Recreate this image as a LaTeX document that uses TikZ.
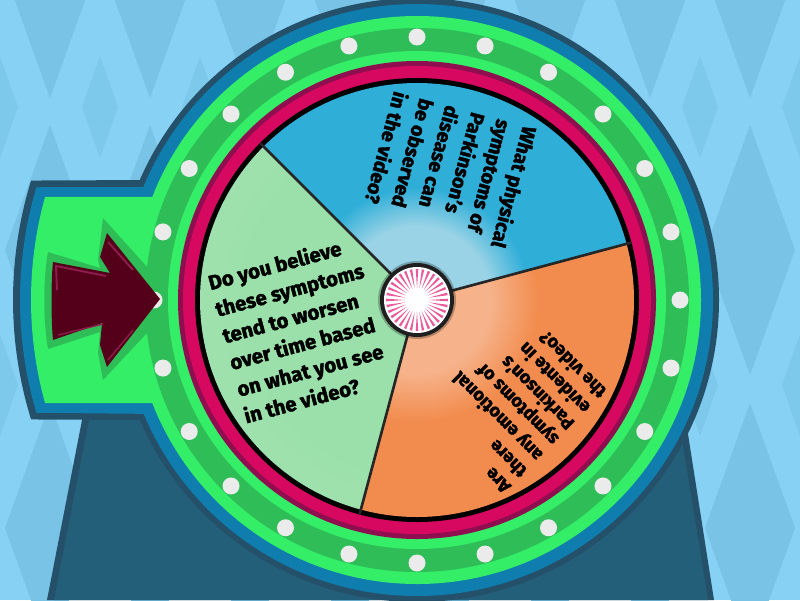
\documentclass[tikz,border=0pt]{standalone}
\usepackage{fontspec}
\usepackage{tikz}
\usetikzlibrary{calc}
\newfontfamily\wheelfont{Fira Sans}[BoldFeatures={FakeBold=2}]

\definecolor{skybg}{HTML}{87D1F5}
\definecolor{skybig}{HTML}{79C3E6}
\definecolor{skysmall}{HTML}{7DC9EB}
\definecolor{standdark}{HTML}{24506A}
\definecolor{standfill}{HTML}{245F7A}
\definecolor{rimblue}{HTML}{0F7DAE}
\definecolor{rimlight}{HTML}{33EE66}
\definecolor{rimdark}{HTML}{2FBD58}
\definecolor{pinkdark}{HTML}{8F0E50}
\definecolor{pinkmain}{HTML}{D6085F}
\definecolor{wedgeblue}{HTML}{2FAED8}
\definecolor{wedgeblueglow}{HTML}{9AD3E6}
\definecolor{wedgeorange}{HTML}{F28C4E}
\definecolor{wedgeorangeglow}{HTML}{F6B28A}
\definecolor{wedgegreen}{HTML}{B4E6C0}
\definecolor{wedgegreenin}{HTML}{9BE0AA}
\definecolor{arrowdark}{HTML}{54001A}
\definecolor{arrowshine}{HTML}{8E1C4C}
\definecolor{raypink}{HTML}{E85A9A}

\pgfdeclareradialshading{blueglow}{\pgfpoint{0bp}{0bp}}{color(0bp)=(wedgeblueglow);color(8.5bp)=(wedgeblueglow);color(13bp)=(wedgeblue);color(50bp)=(wedgeblue)}
\pgfdeclareradialshading{orangeglow}{\pgfpoint{0bp}{0bp}}{color(0bp)=(wedgeorangeglow);color(8.5bp)=(wedgeorangeglow);color(14bp)=(wedgeorange);color(50bp)=(wedgeorange)}
\pgfdeclareradialshading{greenglow}{\pgfpoint{0bp}{0bp}}{color(0bp)=(wedgegreenin);color(20bp)=(wedgegreenin);color(50bp)=(wedgegreen)}

\begin{document}
\begin{tikzpicture}[x=0.02cm, y=0.02cm,
		spokeline/.style={draw=black!85, line width=1.5pt},
		question/.style={align=left, anchor=north west, inner sep=0pt, text=black},
		bulb/.style={fill=black!8}]
	\useasboundingbox (0,0) rectangle (800,600);
	\clip (0,0) rectangle (800,600);

	% Background
	\fill[skybg] (0,0) rectangle (800,600);
	\foreach \c in {50,150,...,750} {
		\foreach \r in {72,350,627} {
			\fill[skybig] (\c-45,\r) -- (\c,\r+125) -- (\c+45,\r) -- (\c,\r-125) -- cycle;
		}
	}
	\foreach \c in {0,100,...,800} {
		\foreach \r in {215,493} {
			\fill[skysmall] (\c-18,\r) -- (\c,\r+51) -- (\c+18,\r) -- (\c,\r-51) -- cycle;
		}
	}

	% Stand
	\fill[standdark] (83,185) -- (685,185) -- (714,0) -- (47,0) -- cycle;
	\fill[standfill] (90,185) -- (678,185) -- (708,0) -- (54,0) -- cycle;

	\coordinate (hub) at (417,300);

	% Rim and pointer tab
	\fill[standdark] (hub) circle (302);
	\fill[standdark] ($(hub)+(162.8:404)$) arc[start angle=162.8, end angle=197.2, radius=404] -- (150,180) -- (150,420) -- cycle;
	\fill[rimblue] (hub) circle (296);
	\fill[rimblue] ($(hub)+(163.5:397)$) arc[start angle=163.5, end angle=196.5, radius=397] -- (160,186) -- (160,413) -- cycle;
	\fill[rimlight] (hub) circle (284);
	\fill[rimlight] ($(hub)+(164.5:386)$) arc[start angle=164.5, end angle=195.5, radius=386] -- (170,197) -- (170,403) -- cycle;
	\fill[rimdark] (hub) circle (272);
	\fill[rimlight] (hub) circle (249);
	\fill[pinkdark] (hub) circle (239);
	\fill[pinkmain] (hub) circle (234);
	\fill[black] (hub) circle (222);

	% Bulbs
	\foreach \a in {0,15,...,345} {
		\fill[bulb] ($(hub)+(\a:263)$) circle (8.5);
	}

	% Pointer
	\fill[rimdark] (48,251) .. controls (43,280) and (43,320) .. (48,348) -- (100,332) -- (98,340) -- (103,382) -- (147,333) -- (147,267) -- (103,220) -- (98,247) -- (100,268) -- cycle;
	\fill[arrowdark] (53,260) .. controls (51,280) and (51,320) .. (53,338) -- (110,327) -- (100,343) -- (107,367) -- (160,301) -- (107,233) -- (100,255) -- (102,277) -- cycle;
	\draw[arrowshine, line width=1.1pt] (57,310) -- (56,334) -- (106,324);
	\draw[arrowshine, line width=1.1pt] (108,358) -- (133,330);
	\draw[arrowshine, line width=0.8pt] (108,240) -- (133,270);
	\draw[arrowshine, line width=0.8pt] (58,265) -- (103,276);

	% Wedges
	\begin{scope}
		\clip (hub) -- ($(hub)+(15:217)$) arc[start angle=15, end angle=135, radius=217] -- cycle;
		\shade[shading=blueglow] (hub) circle (217);
	\end{scope}
	\begin{scope}
		\clip (hub) -- ($(hub)+(135:217)$) arc[start angle=135, end angle=255, radius=217] -- cycle;
		\shade[shading=greenglow] (hub) circle (217);
	\end{scope}
	\begin{scope}
		\clip (hub) -- ($(hub)+(255:217)$) arc[start angle=255, end angle=375, radius=217] -- cycle;
		\shade[shading=orangeglow] (hub) circle (217);
	\end{scope}
	\draw[spokeline] (hub) -- ($(hub)+(15:222)$);
	\draw[spokeline] (hub) -- ($(hub)+(135:222)$);
	\draw[spokeline] (hub) -- ($(hub)+(255:222)$);

	% Questions
	\node[question, rotate=255, font=\wheelfont\bfseries\fontsize{11.2}{15.2}\selectfont] (physical) at (539,471) {What physical\\symptoms of\\Parkinson’s\\disease can\\be observed\\in the video?};
	\node[question, rotate=15, font=\wheelfont\bfseries\fontsize{11.6}{15.7}\selectfont] (worsen) at (206,326) {Do you believe\\these symptoms\\tend to worsen\\over time based\\on what you see\\in the video?};
	\node[question, rotate=135, font=\wheelfont\bfseries\fontsize{10.3}{12.8}\selectfont] (emotional) at (503,105) {Are\\there\\any emotional\\symptoms of\\Parkinson’s\\evidente in\\the video?};

	% Hub
	\fill[black, opacity=0.25] (hub) circle (39);
	\fill[black!88] (hub) circle (37);
	\fill[white] (hub) circle (33);
	\foreach \a in {0,11.25,...,349} {
		\fill[raypink] ($(hub)+(\a:12)$) -- ($(hub)+(\a-2.4:31)$) -- ($(hub)+(\a+2.4:31)$) -- cycle;
	}
\end{tikzpicture}
\end{document}
